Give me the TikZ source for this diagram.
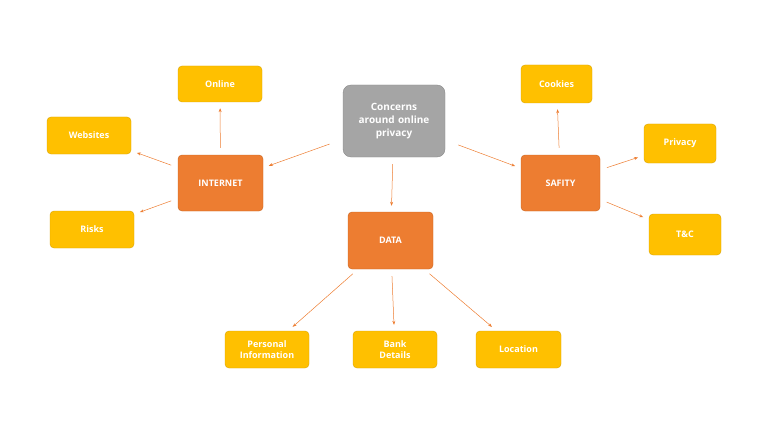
\documentclass[tikz,border=0pt]{standalone}
\usepackage{fontspec}
\setmainfont{Open Sans}
\usetikzlibrary{arrows.meta}
\definecolor{yel}{HTML}{FFC000}
\definecolor{yelb}{HTML}{D9A300}
\definecolor{org}{HTML}{ED7D31}
\definecolor{orgb}{HTML}{C8651F}
\definecolor{gry}{HTML}{A5A5A5}
\definecolor{gryb}{HTML}{8A8A8A}
\tikzset{
 box/.style={rounded corners=4pt,text=white,font=\fontsize{9}{10}\selectfont\bfseries,align=center,inner sep=0pt},
 ybox/.style={box,fill=yel,draw=yelb},
 obox/.style={box,fill=org,draw=orgb},
 gbox/.style={box,fill=gry,draw=gryb},
 conn/.style={draw=org,line width=0.5pt,-{Stealth[length=4pt,width=3pt]},shorten <=7pt,shorten >=6pt}
}
\newcommand{\bx}[7]{\node[#1,minimum width=#4pt,minimum height=#5pt,text width=#4pt] (#2) at (#3) {#6};}
\begin{document}
\begin{tikzpicture}[x=1pt,y=-1pt]
\useasboundingbox (0,0) rectangle (768,433);
\node[gbox,minimum width=102pt,minimum height=72pt,text width=90pt,rounded corners=8pt,font=\fontsize{10}{13}\selectfont\bfseries] (c) at (394,121) {Concerns\\around online\\privacy};
\node[obox,minimum width=85pt,minimum height=56pt] (int) at (220.5,183) {INTERNET};
\node[obox,minimum width=85pt,minimum height=57pt] (dat) at (390.5,240.5) {DATA};
\node[obox,minimum width=79pt,minimum height=56pt] (saf) at (560.5,183) {SAFITY};
\node[ybox,minimum width=84pt,minimum height=36pt] (onl) at (220,84) {Online};
\node[ybox,minimum width=84pt,minimum height=37pt] (web) at (89,135.5) {Websites};
\node[ybox,minimum width=84pt,minimum height=37pt] (ris) at (92,229.5) {Risks};
\node[ybox,minimum width=71pt,minimum height=38pt] (coo) at (556.5,84) {Cookies};
\node[ybox,minimum width=72pt,minimum height=39pt] (pri) at (680,143.5) {Privacy};
\node[ybox,minimum width=72pt,minimum height=41pt] (tc) at (685,234.5) {T\&C};
\node[ybox,minimum width=84pt,minimum height=37pt,font=\fontsize{9}{10.5}\selectfont\bfseries] (per) at (267,349.5) {Personal\\Information};
\node[ybox,minimum width=84pt,minimum height=37pt,font=\fontsize{9}{10.5}\selectfont\bfseries] (ban) at (395,349.5) {Bank\\Details};
\node[ybox,minimum width=85pt,minimum height=37pt] (loc) at (518.5,349.5) {Location};
\draw[conn,shorten <=14pt] (c) -- (int);
\draw[conn] (c) -- (dat);
\draw[conn,shorten <=14pt] (c) -- (saf);
\draw[conn] (int) -- (onl);
\draw[conn] (int) -- (web);
\draw[conn] (int) -- (ris);
\draw[conn] (saf) -- (coo);
\draw[conn] (saf) -- (pri);
\draw[conn] (saf) -- (tc);
\draw[conn] (dat) -- (per);
\draw[conn] (dat) -- (ban);
\draw[conn] (dat) -- (loc);
\end{tikzpicture}
\end{document}
